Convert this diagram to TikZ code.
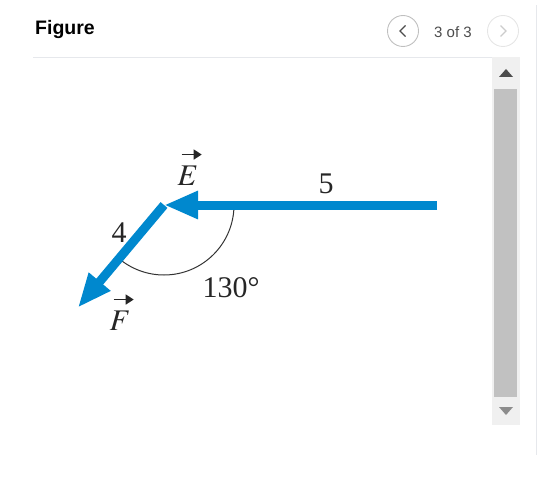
\documentclass[tikz,border=0pt]{standalone}
\usepackage{mathptmx}
\usepackage{amsmath}
\usepackage[no-math]{fontspec}
\setmainfont{Liberation Serif}
\newfontfamily\uifont{Liberation Sans}
\usetikzlibrary{arrows.meta}
\definecolor{vecblue}{RGB}{0,136,206}
\definecolor{barbg}{RGB}{240,240,240}
\definecolor{thumbgray}{RGB}{193,193,193}
\definecolor{rulegray}{RGB}{230,232,236}
\newcommand{\vecsym}[1]{\overset{\mkern6mu\tikz\draw[line width=1.5pt, -{Triangle[length=8pt, width=10pt]}] (0pt,0pt) -- (20pt,0pt);}{#1}}

\begin{document}
\begin{tikzpicture}[x=1pt, y=1pt,
  vec/.style={draw=vecblue, line width=9pt, -{Triangle[length=34pt, width=26pt]}},
  lbl/.style={anchor=base, inner sep=0pt, text=black!85, font=\fontsize{30}{36}\selectfont},
  navbtn/.style={circle, minimum size=31pt, inner sep=0pt, line width=0.9pt}]
\useasboundingbox (0,0) rectangle (537,-481);
% header
\node[anchor=base west, inner sep=0pt, font=\uifont\bfseries\fontsize{19.5}{22}\selectfont] (title) at (35,-35) {Figure};
\node[navbtn, draw=black!25] (prev) at (403,-31) {};
\draw[black!70, line width=1.3pt] ([xshift=2.5pt, yshift=5.5pt]prev.center) -- ([xshift=-3pt]prev.center) -- ([xshift=2.5pt, yshift=-5.5pt]prev.center);
\node[anchor=base, inner sep=0pt, text=black!70, font=\uifont\fontsize{15}{18}\selectfont] (count) at (453,-38) {3 of 3};
\node[navbtn, draw=black!10] (next) at (503,-31) {};
\draw[black!20, line width=1.3pt] ([xshift=-2.5pt, yshift=5.5pt]next.center) -- ([xshift=3pt]next.center) -- ([xshift=-2.5pt, yshift=-5.5pt]next.center);
\draw[rulegray] (33,-57) -- (520,-57);
\draw[rulegray] (536.5,-5) -- (536.5,-455);
% scroll bar
\fill[barbg] (492,-57) rectangle (520,-425);
\fill[thumbgray] (493.5,-89) rectangle (517,-397);
\fill[black!70] (499,-77) -- (513,-77) -- (506,-69) -- cycle;
\fill[black!45] (499,-407) -- (513,-407) -- (506,-415) -- cycle;
% vectors
\coordinate (etail) at (437,-205);
\coordinate (corner) at (164,-205);
\coordinate (ftip) at ([shift={(230:134)}]corner);
\draw[black!80, line width=1pt] (corner) ++(0:70) arc[start angle=0, end angle=-130, radius=70];
\draw[vec] (etail) -- (corner);
\draw[vec] (corner) -- (ftip);
\node[lbl] (elbl) at (188,-185) {$\vecsym{E}$};
\node[lbl] (len5) at (326,-193) {5};
\node[lbl] (len4) at (119,-242) {4};
\node[lbl] (angle) at (231,-297) {130°};
\node[lbl] (flbl) at (120,-330) {$\vecsym{F}$};
\end{tikzpicture}
\end{document}
